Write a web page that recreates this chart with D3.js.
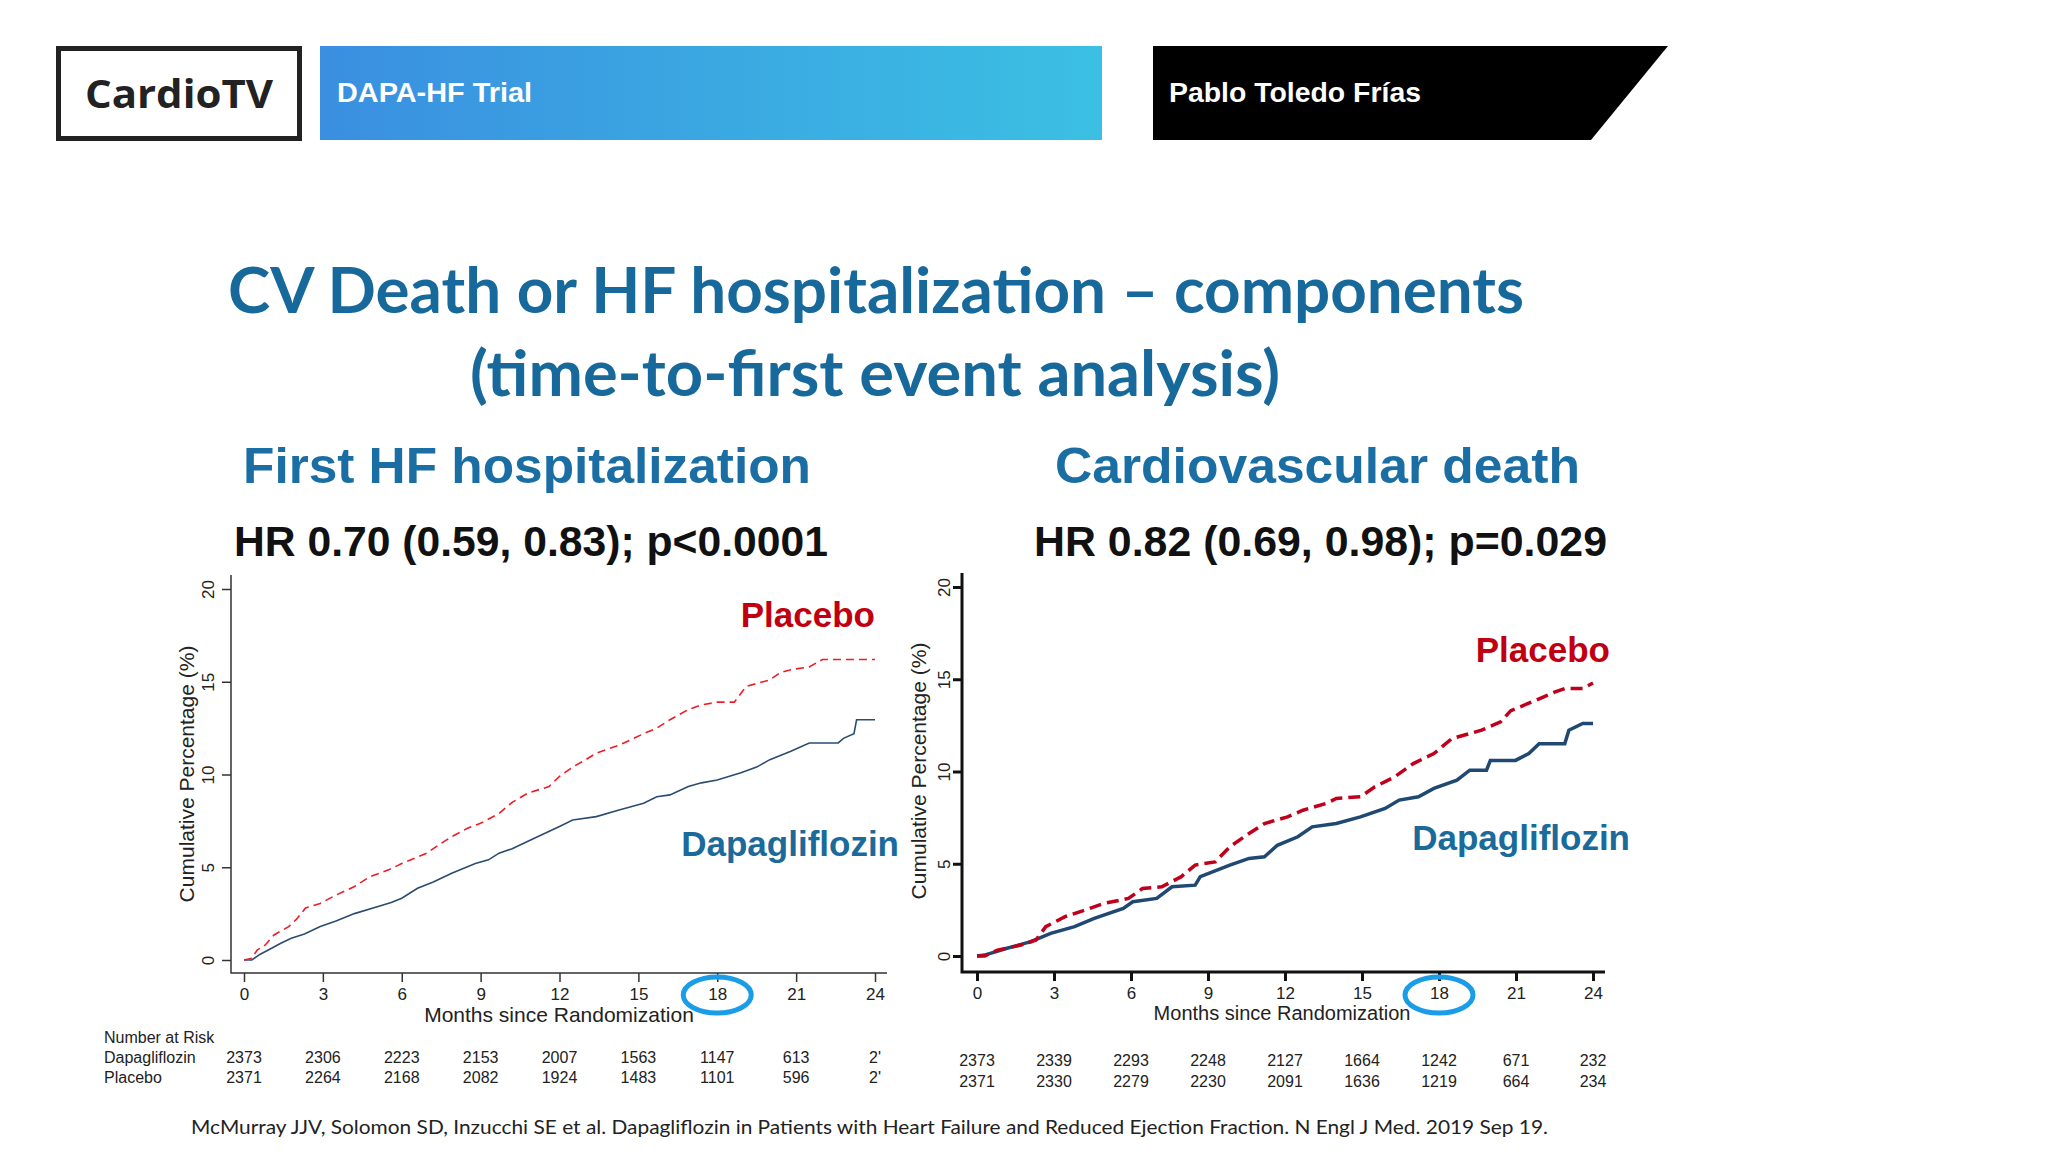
<!DOCTYPE html>
<html>
<head>
<meta charset="utf-8">
<script src="https://cdn.jsdelivr.net/npm/d3@7"></script>
<style>
  body { margin: 0; background: #fff; }
  svg text { font-family: "Liberation Sans", Arial, sans-serif; }
</style>
</head>
<body>
<svg id="chart" width="2048" height="1152"></svg>
<script>
// months on the x axis
var months = [0, 3, 6, 9, 12, 15, 18, 21, 24];
var yTicks = [0, 5, 10, 15, 20];

// first HF hospitalization, [month, cumulative %]
var hfPlacebo = [[0,0],[0.3,0.1],[0.5,0.54],[0.8,0.8],[1.14,1.35],[1.7,1.8],[2.0,2.2],[2.34,2.8],[2.9,3.05],[3.5,3.5],[4.2,3.96],[4.8,4.5],[5.5,4.86],[6.0,5.2],[6.95,5.76],[7.4,6.2],[7.9,6.65],[8.5,7.1],[9.0,7.37],[9.7,7.9],[10.2,8.5],[10.8,9.0],[11.6,9.35],[12.0,9.9],[12.5,10.4],[13.0,10.8],[13.4,11.15],[14.3,11.6],[15.2,12.2],[15.7,12.5],[16.2,12.95],[16.9,13.5],[17.4,13.75],[18.0,13.9],[18.65,13.9],[19.1,14.75],[20.0,15.1],[20.4,15.5],[20.8,15.65],[21.5,15.8],[22.0,16.2],[24,16.2]];
var hfDapa = [[0,0],[0.3,0],[0.6,0.3],[1.05,0.63],[1.4,0.9],[1.8,1.17],[2.3,1.4],[2.9,1.8],[3.5,2.1],[4.2,2.5],[5.1,2.88],[5.6,3.1],[6.0,3.33],[6.6,3.87],[7.2,4.2],[7.9,4.68],[8.8,5.2],[9.3,5.4],[9.7,5.76],[10.2,6.0],[10.8,6.4],[11.55,6.9],[12.0,7.2],[12.5,7.55],[13.4,7.73],[14.3,8.1],[15.2,8.45],[15.7,8.8],[16.2,8.9],[16.9,9.35],[17.4,9.55],[18.0,9.7],[18.9,10.1],[19.5,10.4],[20.0,10.8],[20.8,11.25],[21.5,11.7],[22.6,11.7],[22.8,11.95],[23.2,12.2],[23.3,12.95],[24,12.95]];

// cardiovascular death, [month, cumulative %]
var cvPlacebo = [[0,0],[0.3,0],[0.8,0.32],[1.74,0.6],[2.3,0.87],[2.68,1.59],[3.43,2.13],[4.2,2.49],[4.94,2.85],[5.9,3.12],[6.45,3.66],[7.2,3.75],[7.96,4.3],[8.5,4.93],[9.28,5.1],[9.85,5.92],[10.6,6.64],[11.2,7.18],[12.1,7.54],[12.7,7.9],[13.6,8.27],[14.0,8.54],[14.94,8.63],[15.5,9.17],[16.26,9.7],[17.0,10.43],[17.8,10.97],[18.5,11.78],[19.66,12.24],[20.4,12.69],[20.8,13.3],[21.5,13.7],[22.5,14.3],[22.9,14.5],[23.6,14.5],[24,14.8]];
var cvDapa = [[0,0],[0.3,0.05],[1.17,0.42],[2.1,0.78],[2.87,1.23],[3.8,1.59],[4.57,2.04],[5.7,2.58],[6.07,2.94],[7.0,3.12],[7.6,3.75],[8.5,3.84],[8.7,4.3],[9.85,4.93],[10.6,5.29],[11.2,5.38],[11.7,6.0],[12.5,6.46],[13.06,7.0],[14.0,7.18],[14.94,7.54],[15.9,8.0],[16.45,8.45],[17.2,8.63],[17.8,9.08],[18.7,9.53],[19.2,10.07],[19.85,10.07],[20.0,10.6],[20.98,10.6],[21.5,10.97],[21.9,11.5],[22.9,11.5],[23.06,12.24],[23.6,12.6],[24,12.6]];

// number at risk
var hfRiskDapa = ["2373","2306","2223","2153","2007","1563","1147","613","2'"];
var hfRiskPlacebo = ["2371","2264","2168","2082","1924","1483","1101","596","2'"];
var cvRiskDapa = ["2373","2339","2293","2248","2127","1664","1242","671","232"];
var cvRiskPlacebo = ["2371","2330","2279","2230","2091","1636","1219","664","234"];

var svg = d3.select("#chart");

// ---- header strip
var defs = svg.append("defs");
var grad = defs.append("linearGradient").attr("id", "bar").attr("x1", "0").attr("x2", "1");
grad.append("stop").attr("offset", "0").attr("stop-color", "#3a8fe0");
grad.append("stop").attr("offset", "1").attr("stop-color", "#3bc0e3");

svg.append("rect").attr("x", 58.5).attr("y", 48.5).attr("width", 241).attr("height", 90)
  .attr("fill", "#fff").attr("stroke", "#222").attr("stroke-width", 5);
svg.append("text").attr("x", 179).attr("y", 108).attr("text-anchor", "middle")
  .attr("textLength", 188).attr("lengthAdjust", "spacingAndGlyphs")
  .style("font-family", "'Open Sans', sans-serif").style("font-weight", "bold")
  .style("font-size", "40px").style("fill", "#222").text("CardioTV");

svg.append("rect").attr("x", 320).attr("y", 46).attr("width", 782).attr("height", 94).attr("fill", "url(#bar)");
svg.append("text").attr("x", 337).attr("y", 102).attr("textLength", 195).attr("lengthAdjust", "spacingAndGlyphs")
  .style("font-weight", "bold").style("font-size", "27px").style("fill", "#fff").text("DAPA-HF Trial");

svg.append("polygon").attr("points", "1153,46 1668,46 1591,140 1153,140").attr("fill", "#000");
svg.append("text").attr("x", 1169).attr("y", 102).attr("textLength", 252).attr("lengthAdjust", "spacingAndGlyphs")
  .style("font-weight", "bold").style("font-size", "27px").style("fill", "#fff").text("Pablo Toledo Frías");

// ---- titles
var titleBlue = "#17699c";
svg.append("text").attr("x", 228).attr("y", 313).attr("textLength", 1296).attr("lengthAdjust", "spacingAndGlyphs")
  .style("font-family", "Lato, sans-serif").style("font-weight", "bold").style("font-size", "64px")
  .style("fill", titleBlue).text("CV Death or HF hospitalization – components");
svg.append("text").attr("x", 470).attr("y", 396).attr("textLength", 810).attr("lengthAdjust", "spacingAndGlyphs")
  .style("font-family", "Lato, sans-serif").style("font-weight", "bold").style("font-size", "64px")
  .style("fill", titleBlue).text("(time-to-first event analysis)");

svg.append("text").attr("x", 243).attr("y", 483).attr("textLength", 568).attr("lengthAdjust", "spacingAndGlyphs")
  .style("font-weight", "bold").style("font-size", "50px").style("fill", "#1a6ea3").text("First HF hospitalization");
svg.append("text").attr("x", 1055).attr("y", 483).attr("textLength", 525).attr("lengthAdjust", "spacingAndGlyphs")
  .style("font-weight", "bold").style("font-size", "50px").style("fill", "#1a6ea3").text("Cardiovascular death");

svg.append("text").attr("x", 234).attr("y", 556).attr("textLength", 594).attr("lengthAdjust", "spacingAndGlyphs")
  .style("font-weight", "bold").style("font-size", "42px").style("fill", "#111").text("HR 0.70 (0.59, 0.83); p<0.0001");
svg.append("text").attr("x", 1034).attr("y", 556).attr("textLength", 573).attr("lengthAdjust", "spacingAndGlyphs")
  .style("font-weight", "bold").style("font-size", "42px").style("fill", "#111").text("HR 0.82 (0.69, 0.98); p=0.029");

// ---- one KM panel
function drawPanel(p) {
  var x = d3.scaleLinear().domain([0, 24]).range([p.x0, p.x24]);
  var y = d3.scaleLinear().domain([0, 20]).range([p.y0, p.y20]);
  var g = svg.append("g");

  // L-shaped frame
  g.append("path")
    .attr("d", "M" + p.axisX + "," + p.axisTop + "V" + p.axisY + "H" + p.axisRight)
    .attr("fill", "none").attr("stroke", p.axisColor).attr("stroke-width", p.axisW);

  var xAxis = d3.axisBottom(x).tickValues(months).tickSize(9).tickSizeOuter(0);
  var gx = g.append("g").attr("transform", "translate(0," + p.axisY + ")").call(xAxis);
  gx.select(".domain").remove();
  gx.selectAll("line").attr("stroke", p.axisColor).attr("stroke-width", p.axisW);
  gx.selectAll("text").attr("y", 15).style("font-size", "17px").style("fill", "#222").style("font-family", "'Liberation Sans', Arial");

  var yAxis = d3.axisLeft(y).tickValues(yTicks).tickSize(9).tickSizeOuter(0);
  var gy = g.append("g").attr("transform", "translate(" + p.axisX + ",0)").call(yAxis);
  gy.select(".domain").remove();
  gy.selectAll("line").attr("stroke", p.axisColor).attr("stroke-width", p.axisW);
  gy.selectAll("text").attr("x", 0).attr("dy", 0).attr("text-anchor", "middle")
    .attr("transform", "translate(" + (p.tickLabX - p.axisX + 6) + ",0) rotate(-90)")
    .style("font-size", "17px").style("fill", "#222").style("font-family", "'Liberation Sans', Arial");

  g.append("text").attr("transform", "translate(" + p.ylabX + "," + p.ylabY + ") rotate(-90)")
    .attr("text-anchor", "middle").attr("dy", 7).style("font-size", "21px").style("fill", "#222")
    .text("Cumulative Percentage (%)");
  g.append("text").attr("x", p.xlabX).attr("y", p.xlabY).attr("text-anchor", "middle")
    .style("font-size", p.xlabSize).style("fill", "#222").text("Months since Randomization");

  var line = d3.line().x(function(d) { return x(d[0]); }).y(function(d) { return y(d[1]); });
  g.append("path").datum(p.dapa).attr("d", line).attr("fill", "none")
    .attr("stroke", p.dapaColor).attr("stroke-width", p.lineW);
  g.append("path").datum(p.placebo).attr("d", line).attr("fill", "none")
    .attr("stroke", p.placeboColor).attr("stroke-width", p.lineW).attr("stroke-dasharray", p.dash);

  g.append("text").attr("x", p.plLabX).attr("y", p.plLabY).attr("text-anchor", "end")
    .style("font-weight", "bold").style("font-size", "35px").style("fill", "#c00010").text("Placebo");
  g.append("text").attr("x", p.daLabX).attr("y", p.daLabY).attr("text-anchor", "end")
    .style("font-weight", "bold").style("font-size", "35px").style("fill", "#1a6a9a").text("Dapagliflozin");

  // circle round month 18
  g.append("ellipse").attr("cx", x(18)).attr("cy", 995).attr("rx", 34).attr("ry", 18)
    .attr("fill", "none").attr("stroke", "#1a9de6").attr("stroke-width", 5);

  // number at risk rows
  g.selectAll(".rd").data(p.riskDapa).enter().append("text")
    .attr("x", function(d, i) { return x(months[i]); }).attr("y", p.riskY1)
    .attr("text-anchor", "middle").style("font-size", "16px").style("fill", "#222").text(function(d) { return d; });
  g.selectAll(".rp").data(p.riskPlacebo).enter().append("text")
    .attr("x", function(d, i) { return x(months[i]); }).attr("y", p.riskY2)
    .attr("text-anchor", "middle").style("font-size", "16px").style("fill", "#222").text(function(d) { return d; });
}

drawPanel({
  x0: 244, x24: 875, y0: 960, y20: 589,
  axisX: 231, axisTop: 575, axisY: 973, axisRight: 887, axisColor: "#333", axisW: 1.5,
  tickLabX: 208, ylabX: 187, ylabY: 774, xlabX: 559, xlabY: 1022, xlabSize: "21px",
  dapa: hfDapa, placebo: hfPlacebo, dapaColor: "#2b4c70", placeboColor: "#ee1c25", lineW: 1.6, dash: "8,5",
  plLabX: 875, plLabY: 627, daLabX: 899, daLabY: 856,
  riskDapa: hfRiskDapa, riskPlacebo: hfRiskPlacebo, riskY1: 1063, riskY2: 1083
});

drawPanel({
  x0: 977, x24: 1593, y0: 956, y20: 587,
  axisX: 962, axisTop: 573, axisY: 972, axisRight: 1605, axisColor: "#111", axisW: 3,
  tickLabX: 944, ylabX: 919, ylabY: 771, xlabX: 1282, xlabY: 1020, xlabSize: "20px",
  dapa: cvDapa, placebo: cvPlacebo, dapaColor: "#1f4873", placeboColor: "#c0001a", lineW: 3.5, dash: "12,6",
  plLabX: 1610, plLabY: 662, daLabX: 1630, daLabY: 850,
  riskDapa: cvRiskDapa, riskPlacebo: cvRiskPlacebo, riskY1: 1066, riskY2: 1087
});

// labels for the left risk table
svg.append("text").attr("x", 104).attr("y", 1043).style("font-size", "16px").style("fill", "#222").text("Number at Risk");
svg.append("text").attr("x", 104).attr("y", 1063).style("font-size", "16px").style("fill", "#222").text("Dapagliflozin");
svg.append("text").attr("x", 104).attr("y", 1083).style("font-size", "16px").style("fill", "#222").text("Placebo");

// reference line
svg.append("text").attr("x", 191).attr("y", 1134).attr("textLength", 1357).attr("lengthAdjust", "spacingAndGlyphs")
  .style("font-family", "Lato, sans-serif").style("font-size", "20px").style("fill", "#222")
  .text("McMurray JJV, Solomon SD, Inzucchi SE et al. Dapagliflozin in Patients with Heart Failure and Reduced Ejection Fraction. N Engl J Med. 2019 Sep 19.");
</script>
</body>
</html>
